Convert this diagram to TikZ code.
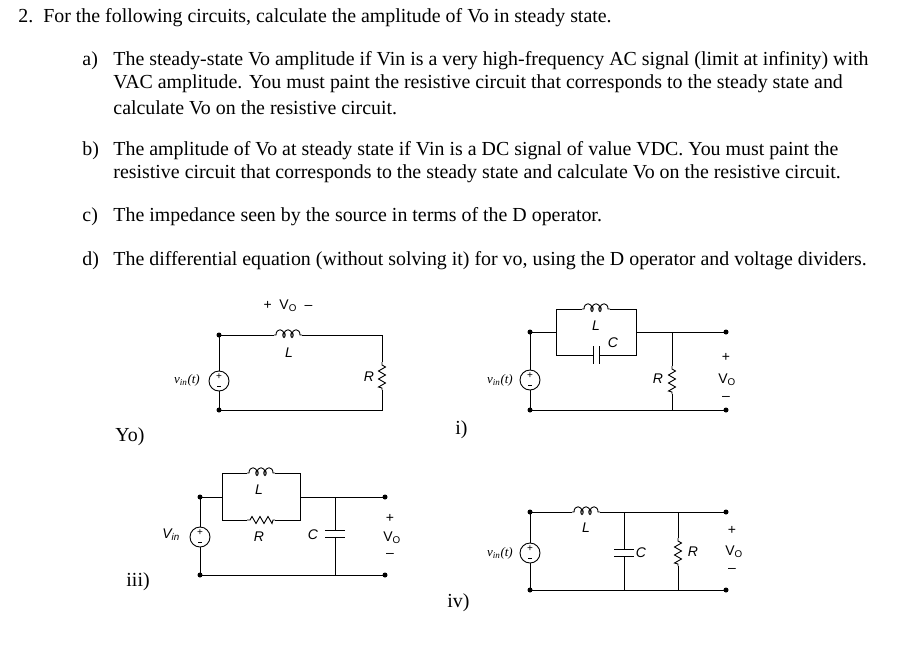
\documentclass[tikz,border=0pt]{standalone}
\usepackage{fontspec}
\setmainfont{Liberation Serif}
\newfontfamily\csans{Liberation Sans}
\begin{document}
\begin{tikzpicture}[x=1pt,y=-1pt,line width=0.9pt,
  txt/.style={anchor=west,inner sep=0pt,font=\fontsize{19.9}{23}\selectfont},
  lab/.style={inner sep=0pt,font=\csans\fontsize{14}{16}\selectfont},
  il/.style={inner sep=0pt,font=\csans\itshape\fontsize{14}{16}\selectfont},
  vin/.style={inner sep=0pt,font=\fontsize{13}{15}\selectfont\itshape},
  dot/.style={circle,fill,inner sep=0pt,minimum size=5pt},
  ind/.pic={\draw (-14,0) -- (-12,0) .. controls (-12,-7) and (-4,-7) .. (-4,0) .. controls (-4,-7) and (4,-7) .. (4,0) .. controls (4,-7) and (12,-7) .. (12,0) -- (14,0);
    \draw (-4,0) ellipse (1.2 and 2.5) (4,0) ellipse (1.2 and 2.5);},
  resv/.pic={\draw (0,-14) -- (0,-11) -- (3.5,-9) -- (-3.5,-5) -- (3.5,-1) -- (-3.5,3) -- (3.5,7) -- (-3.5,11) -- (0,12) -- (0,14);},
  resh/.pic={\draw (-14,0) -- (-11,0) -- (-9,-3.5) -- (-5,3.5) -- (-1,-3.5) -- (3,3.5) -- (7,-3.5) -- (11,3.5) -- (12,0) -- (14,0);},
  src/.pic={\draw[fill=white] (0,0) circle (10); \node[lab,font=\csans\fontsize{10}{11}\selectfont] at (0,-4) {+}; \draw (-2,5) -- (2,5);},
]
\useasboundingbox (0,0) rectangle (913,657);
\node[txt] at (18,18) {2.\ \ For the following circuits, calculate the amplitude of Vo in steady state.};
\node[txt] at (82,61) {a)};
\node[txt] at (113,61) {The steady-state Vo amplitude if Vin is a very high-frequency AC signal (limit at infinity) with};
\node[txt] at (113,84) {VAC amplitude. You must paint the resistive circuit that corresponds to the steady state and};
\node[txt] at (113,108) {calculate Vo on the resistive circuit.};
\node[txt] at (82,151) {b)};
\node[txt] at (113,151) {The amplitude of Vo at steady state if Vin is a DC signal of value VDC. You must paint the};
\node[txt] at (113,174) {resistive circuit that corresponds to the steady state and calculate Vo on the resistive circuit.};
\node[txt] at (82,217) {c)};
\node[txt] at (113,217) {The impedance seen by the source in terms of the D operator.};
\node[txt] at (82,261) {d)};
\node[txt] at (113,261) {The differential equation (without solving it) for vo, using the D operator and voltage dividers.};
\node[txt] at (115,437) {Yo)};
\node[txt] at (455,430) {i)};
\node[txt] at (126,582) {iii)};
\node[txt] at (447,603) {iv)};

% Yo circuit
\coordinate (a1) at (219,335); \coordinate (a2) at (382,335);
\coordinate (a3) at (382,410); \coordinate (a4) at (219,410);
\draw (a1) -- (274,335); \pic at (288,335) {ind}; \draw (302,335) -- (a2) -- (382,362); \pic at (382,376) {resv};
\draw (382,390) -- (a3) -- (a4) -- (a1);
\pic at (219,381) {src};
\node[dot] at (a1) {}; \node[dot] at (a4) {};
\node[lab] at (288,306) {+ \ V\textsubscript{O}\ \ \textendash};
\node[il] at (289,353) {L};
\node[il] at (369,377) {R};
\node[vin] at (187,380) {v\textsubscript{in}(t)};

% i circuit
\coordinate (b1) at (530,332); \coordinate (b4) at (530,410);
\coordinate (bt) at (726,332); \coordinate (bb) at (726,410);
\draw (b1) -- (556,332) -- (556,309) -- (582,309); \pic at (596,309) {ind}; \draw (610,309) -- (636,309) -- (636,355) -- (599,355);
\draw (556,332) -- (556,355) -- (593,355);
\draw (593,346) -- (593,364) (599,346) -- (599,364);
\draw (636,332) -- (bt); \draw (672,332) -- (672,366); \pic at (672,380) {resv}; \draw (672,394) -- (672,410);
\draw (bb) -- (b4) -- (b1);
\pic at (530,380) {src};
\node[dot] at (b1) {}; \node[dot] at (b4) {}; \node[dot] at (bt) {}; \node[dot] at (bb) {};
\node[il] at (596,326) {L};
\node[il] at (613,343) {C};
\node[il] at (658,379) {R};
\node[vin] at (500,380) {v\textsubscript{in}(t)};
\node[lab] at (726,357) {+}; \node[lab] at (727,380) {V\textsubscript{O}}; \node[lab] at (726,398) {\textendash};

% iii circuit
\coordinate (c1) at (200,497); \coordinate (c4) at (200,575);
\coordinate (ct) at (385,497); \coordinate (cb) at (385,575);
\draw (c1) -- (222,497) -- (222,473) -- (247,473); \pic at (261,473) {ind}; \draw (275,473) -- (300,473) -- (300,520) -- (275,520); \pic at (261,520) {resh}; \draw (247,520) -- (222,520) -- (222,497);
\draw (300,497) -- (ct);
\draw (335,497) -- (335,530) (335,537) -- (335,575);
\draw (325,530) -- (345,530) (325,537) -- (345,537);
\draw (cb) -- (c4) -- (c1);
\pic at (200,537) {src};
\node[dot] at (c1) {}; \node[dot] at (c4) {}; \node[dot] at (ct) {}; \node[dot] at (cb) {};
\node[il] at (259,490) {L};
\node[il] at (259,537) {R};
\node[il] at (313,535) {C};
\node[il] at (171,535) {V\textsubscript{in}};
\node[lab] at (390,518) {+}; \node[lab] at (392,538) {V\textsubscript{O}}; \node[lab] at (390,555) {\textendash};

% iv circuit
\coordinate (d1) at (530,512); \coordinate (d4) at (530,590);
\coordinate (dt) at (726,512); \coordinate (db) at (726,590);
\draw (d1) -- (572,512); \pic at (586,512) {ind}; \draw (600,512) -- (dt);
\draw (624,512) -- (624,549) (624,556) -- (624,590);
\draw (614,549) -- (634,549) (614,556) -- (634,556);
\draw (678,512) -- (678,538); \pic at (678,552) {resv}; \draw (678,566) -- (678,590);
\draw (db) -- (d4) -- (d1);
\pic at (530,553) {src};
\node[dot] at (d1) {}; \node[dot] at (d4) {}; \node[dot] at (dt) {}; \node[dot] at (db) {};
\node[il] at (586,528) {L};
\node[il] at (641,553) {C};
\node[il] at (693,552) {R};
\node[vin] at (500,553) {v\textsubscript{in}(t)};
\node[lab] at (732,530) {+}; \node[lab] at (734,552) {V\textsubscript{O}}; \node[lab] at (732,570) {\textendash};
\end{tikzpicture}
\end{document}
